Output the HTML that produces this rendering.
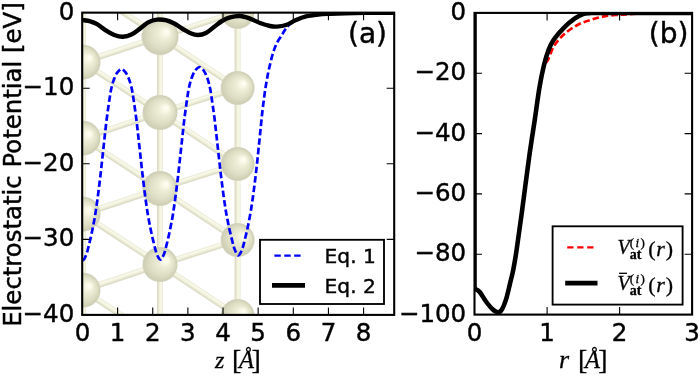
<!DOCTYPE html>
<html><head><meta charset="utf-8"><style>
html,body{margin:0;padding:0;background:#fff;}
body{width:700px;height:376px;overflow:hidden;}
svg{display:block;}
text{font-family:"DejaVu Sans","Liberation Sans",sans-serif;}
.m,.m text,text.m{font-family:"Liberation Serif","DejaVu Serif",serif;}
</style></head><body>
<svg width="700" height="376" viewBox="0 0 700 376">
<defs>
<radialGradient id="sph" cx="0.5" cy="0.5" r="0.5" fx="0.7" fy="0.36">
<stop offset="0" stop-color="#fffff6"/>
<stop offset="0.14" stop-color="#fafaea"/>
<stop offset="0.35" stop-color="#ededd6"/>
<stop offset="0.7" stop-color="#dedec5"/>
<stop offset="0.94" stop-color="#cfcfb5"/>
<stop offset="1" stop-color="#d8d8c4"/>
</radialGradient>
<linearGradient id="stk" x1="0" y1="0" x2="0" y2="1">
<stop offset="0" stop-color="#e8e8d2"/>
<stop offset="0.3" stop-color="#fafaec"/>
<stop offset="0.6" stop-color="#efefda"/>
<stop offset="1" stop-color="#d5d5bd"/>
</linearGradient>
<filter id="soft" x="-5%" y="-5%" width="110%" height="110%"><feGaussianBlur stdDeviation="0.55"/></filter>
<clipPath id="ca"><rect x="82.20" y="12.65" width="312.00" height="302.25"/></clipPath>
<clipPath id="cb"><rect x="474.50" y="12.90" width="217.60" height="301.70"/></clipPath>
</defs>
<rect width="700" height="376" fill="#fff"/>
<g clip-path="url(#ca)">
<g filter="url(#soft)"><g transform="translate(83.00,-89.80) rotate(90.000)"><rect x="0" y="-3.00" width="76.00" height="6.00" fill="url(#stk)"/></g><g transform="translate(83.00,-89.80) rotate(-18.390)"><rect x="0" y="-3.00" width="81.14" height="6.00" fill="url(#stk)"/></g><g transform="translate(83.00,-89.80) rotate(33.207)"><rect x="0" y="-3.00" width="92.03" height="6.00" fill="url(#stk)"/></g><g transform="translate(83.00,-13.80) rotate(90.000)"><rect x="0" y="-3.00" width="76.00" height="6.00" fill="url(#stk)"/></g><g transform="translate(83.00,-13.80) rotate(-18.390)"><rect x="0" y="-3.00" width="81.14" height="6.00" fill="url(#stk)"/></g><g transform="translate(83.00,-13.80) rotate(33.207)"><rect x="0" y="-3.00" width="92.03" height="6.00" fill="url(#stk)"/></g><g transform="translate(83.00,62.20) rotate(90.000)"><rect x="0" y="-3.00" width="76.00" height="6.00" fill="url(#stk)"/></g><g transform="translate(83.00,62.20) rotate(-18.390)"><rect x="0" y="-3.00" width="81.14" height="6.00" fill="url(#stk)"/></g><g transform="translate(83.00,62.20) rotate(33.207)"><rect x="0" y="-3.00" width="92.03" height="6.00" fill="url(#stk)"/></g><g transform="translate(83.00,138.20) rotate(90.000)"><rect x="0" y="-3.00" width="76.00" height="6.00" fill="url(#stk)"/></g><g transform="translate(83.00,138.20) rotate(-18.390)"><rect x="0" y="-3.00" width="81.14" height="6.00" fill="url(#stk)"/></g><g transform="translate(83.00,138.20) rotate(33.207)"><rect x="0" y="-3.00" width="92.03" height="6.00" fill="url(#stk)"/></g><g transform="translate(83.00,214.20) rotate(90.000)"><rect x="0" y="-3.00" width="76.00" height="6.00" fill="url(#stk)"/></g><g transform="translate(83.00,214.20) rotate(-18.390)"><rect x="0" y="-3.00" width="81.14" height="6.00" fill="url(#stk)"/></g><g transform="translate(83.00,214.20) rotate(33.207)"><rect x="0" y="-3.00" width="92.03" height="6.00" fill="url(#stk)"/></g><g transform="translate(83.00,290.20) rotate(90.000)"><rect x="0" y="-3.00" width="76.00" height="6.00" fill="url(#stk)"/></g><g transform="translate(83.00,290.20) rotate(-18.390)"><rect x="0" y="-3.00" width="81.14" height="6.00" fill="url(#stk)"/></g><g transform="translate(83.00,290.20) rotate(33.207)"><rect x="0" y="-3.00" width="92.03" height="6.00" fill="url(#stk)"/></g><g transform="translate(83.00,366.20) rotate(-18.390)"><rect x="0" y="-3.00" width="81.14" height="6.00" fill="url(#stk)"/></g><g transform="translate(83.00,366.20) rotate(33.207)"><rect x="0" y="-3.00" width="92.03" height="6.00" fill="url(#stk)"/></g><g transform="translate(83.00,442.20) rotate(-18.390)"><rect x="0" y="-3.00" width="81.14" height="6.00" fill="url(#stk)"/></g><g transform="translate(83.00,442.20) rotate(33.207)"><rect x="0" y="-3.00" width="92.03" height="6.00" fill="url(#stk)"/></g><g transform="translate(160.00,-115.40) rotate(90.000)"><rect x="0" y="-3.00" width="76.00" height="6.00" fill="url(#stk)"/></g><g transform="translate(160.00,-115.40) rotate(-17.589)"><rect x="0" y="-3.00" width="81.41" height="6.00" fill="url(#stk)"/></g><g transform="translate(160.00,-115.40) rotate(33.519)"><rect x="0" y="-3.00" width="93.08" height="6.00" fill="url(#stk)"/></g><g transform="translate(160.00,-39.40) rotate(90.000)"><rect x="0" y="-3.00" width="76.00" height="6.00" fill="url(#stk)"/></g><g transform="translate(160.00,-39.40) rotate(-17.589)"><rect x="0" y="-3.00" width="81.41" height="6.00" fill="url(#stk)"/></g><g transform="translate(160.00,-39.40) rotate(33.519)"><rect x="0" y="-3.00" width="93.08" height="6.00" fill="url(#stk)"/></g><g transform="translate(160.00,36.60) rotate(90.000)"><rect x="0" y="-3.00" width="76.00" height="6.00" fill="url(#stk)"/></g><g transform="translate(160.00,36.60) rotate(-17.589)"><rect x="0" y="-3.00" width="81.41" height="6.00" fill="url(#stk)"/></g><g transform="translate(160.00,36.60) rotate(33.519)"><rect x="0" y="-3.00" width="93.08" height="6.00" fill="url(#stk)"/></g><g transform="translate(160.00,112.60) rotate(90.000)"><rect x="0" y="-3.00" width="76.00" height="6.00" fill="url(#stk)"/></g><g transform="translate(160.00,112.60) rotate(-17.589)"><rect x="0" y="-3.00" width="81.41" height="6.00" fill="url(#stk)"/></g><g transform="translate(160.00,112.60) rotate(33.519)"><rect x="0" y="-3.00" width="93.08" height="6.00" fill="url(#stk)"/></g><g transform="translate(160.00,188.60) rotate(90.000)"><rect x="0" y="-3.00" width="76.00" height="6.00" fill="url(#stk)"/></g><g transform="translate(160.00,188.60) rotate(-17.589)"><rect x="0" y="-3.00" width="81.41" height="6.00" fill="url(#stk)"/></g><g transform="translate(160.00,188.60) rotate(33.519)"><rect x="0" y="-3.00" width="93.08" height="6.00" fill="url(#stk)"/></g><g transform="translate(160.00,264.60) rotate(90.000)"><rect x="0" y="-3.00" width="76.00" height="6.00" fill="url(#stk)"/></g><g transform="translate(160.00,264.60) rotate(-17.589)"><rect x="0" y="-3.00" width="81.41" height="6.00" fill="url(#stk)"/></g><g transform="translate(160.00,264.60) rotate(33.519)"><rect x="0" y="-3.00" width="93.08" height="6.00" fill="url(#stk)"/></g><g transform="translate(160.00,340.60) rotate(90.000)"><rect x="0" y="-3.00" width="76.00" height="6.00" fill="url(#stk)"/></g><g transform="translate(160.00,340.60) rotate(-17.589)"><rect x="0" y="-3.00" width="81.41" height="6.00" fill="url(#stk)"/></g><g transform="translate(160.00,340.60) rotate(33.519)"><rect x="0" y="-3.00" width="93.08" height="6.00" fill="url(#stk)"/></g><g transform="translate(160.00,416.60) rotate(-17.589)"><rect x="0" y="-3.00" width="81.41" height="6.00" fill="url(#stk)"/></g><g transform="translate(160.00,416.60) rotate(33.519)"><rect x="0" y="-3.00" width="93.08" height="6.00" fill="url(#stk)"/></g><g transform="translate(237.60,-64.00) rotate(90.000)"><rect x="0" y="-3.00" width="76.00" height="6.00" fill="url(#stk)"/></g><g transform="translate(237.60,12.00) rotate(90.000)"><rect x="0" y="-3.00" width="76.00" height="6.00" fill="url(#stk)"/></g><g transform="translate(237.60,88.00) rotate(90.000)"><rect x="0" y="-3.00" width="76.00" height="6.00" fill="url(#stk)"/></g><g transform="translate(237.60,164.00) rotate(90.000)"><rect x="0" y="-3.00" width="76.00" height="6.00" fill="url(#stk)"/></g><g transform="translate(237.60,240.00) rotate(90.000)"><rect x="0" y="-3.00" width="76.00" height="6.00" fill="url(#stk)"/></g><g transform="translate(237.60,316.00) rotate(90.000)"><rect x="0" y="-3.00" width="76.00" height="6.00" fill="url(#stk)"/></g><g transform="translate(6.50,-65.30) rotate(-17.758)"><rect x="0" y="-3.00" width="80.33" height="6.00" fill="url(#stk)"/></g><g transform="translate(6.50,-141.30) rotate(33.949)"><rect x="0" y="-3.00" width="92.22" height="6.00" fill="url(#stk)"/></g><g transform="translate(6.50,10.70) rotate(-17.758)"><rect x="0" y="-3.00" width="80.33" height="6.00" fill="url(#stk)"/></g><g transform="translate(6.50,-65.30) rotate(33.949)"><rect x="0" y="-3.00" width="92.22" height="6.00" fill="url(#stk)"/></g><g transform="translate(6.50,86.70) rotate(-17.758)"><rect x="0" y="-3.00" width="80.33" height="6.00" fill="url(#stk)"/></g><g transform="translate(6.50,10.70) rotate(33.949)"><rect x="0" y="-3.00" width="92.22" height="6.00" fill="url(#stk)"/></g><g transform="translate(6.50,162.70) rotate(-17.758)"><rect x="0" y="-3.00" width="80.33" height="6.00" fill="url(#stk)"/></g><g transform="translate(6.50,86.70) rotate(33.949)"><rect x="0" y="-3.00" width="92.22" height="6.00" fill="url(#stk)"/></g><g transform="translate(6.50,238.70) rotate(-17.758)"><rect x="0" y="-3.00" width="80.33" height="6.00" fill="url(#stk)"/></g><g transform="translate(6.50,162.70) rotate(33.949)"><rect x="0" y="-3.00" width="92.22" height="6.00" fill="url(#stk)"/></g><g transform="translate(6.50,314.70) rotate(-17.758)"><rect x="0" y="-3.00" width="80.33" height="6.00" fill="url(#stk)"/></g><g transform="translate(6.50,238.70) rotate(33.949)"><rect x="0" y="-3.00" width="92.22" height="6.00" fill="url(#stk)"/></g><g transform="translate(6.50,390.70) rotate(-17.758)"><rect x="0" y="-3.00" width="80.33" height="6.00" fill="url(#stk)"/></g><g transform="translate(6.50,314.70) rotate(33.949)"><rect x="0" y="-3.00" width="92.22" height="6.00" fill="url(#stk)"/></g><g transform="translate(6.50,466.70) rotate(-17.758)"><rect x="0" y="-3.00" width="80.33" height="6.00" fill="url(#stk)"/></g><g transform="translate(6.50,390.70) rotate(33.949)"><rect x="0" y="-3.00" width="92.22" height="6.00" fill="url(#stk)"/></g><circle cx="83.00" cy="-13.80" r="17.50" fill="url(#sph)"/><circle cx="83.00" cy="62.20" r="17.50" fill="url(#sph)"/><circle cx="83.00" cy="138.20" r="17.50" fill="url(#sph)"/><circle cx="83.00" cy="214.20" r="17.50" fill="url(#sph)"/><circle cx="83.00" cy="290.20" r="17.50" fill="url(#sph)"/><circle cx="160.00" cy="-39.40" r="17.60" fill="url(#sph)"/><circle cx="160.00" cy="36.60" r="18.60" fill="url(#sph)"/><circle cx="160.00" cy="112.60" r="17.60" fill="url(#sph)"/><circle cx="160.00" cy="188.60" r="17.60" fill="url(#sph)"/><circle cx="160.00" cy="264.60" r="17.60" fill="url(#sph)"/><circle cx="160.00" cy="340.60" r="17.60" fill="url(#sph)"/><circle cx="237.60" cy="12.00" r="17.00" fill="url(#sph)"/><circle cx="237.60" cy="88.00" r="17.00" fill="url(#sph)"/><circle cx="237.60" cy="164.00" r="17.00" fill="url(#sph)"/><circle cx="237.60" cy="240.00" r="17.00" fill="url(#sph)"/><circle cx="237.60" cy="316.00" r="17.00" fill="url(#sph)"/></g>
<path d="M82.60,260.50 C82.93,260.13 83.88,259.60 84.60,258.29 C85.32,256.99 86.20,255.01 86.95,252.67 C87.70,250.32 88.38,247.13 89.10,244.23 C89.82,241.34 90.60,238.22 91.25,235.29 C91.90,232.37 92.42,229.55 93.00,226.66 C93.58,223.76 94.20,220.77 94.70,217.92 C95.20,215.08 95.57,212.48 96.00,209.59 C96.43,206.69 96.87,203.73 97.30,200.55 C97.73,197.37 98.17,193.85 98.60,190.51 C99.02,187.16 99.45,183.81 99.85,180.47 C100.25,177.12 100.62,173.77 101.00,170.42 C101.38,167.08 101.73,163.73 102.10,160.38 C102.47,157.03 102.83,153.69 103.20,150.34 C103.57,146.99 103.93,143.65 104.30,140.30 C104.67,136.95 105.03,133.60 105.40,130.26 C105.78,126.91 106.13,123.56 106.55,120.21 C106.97,116.87 107.43,113.52 107.90,110.17 C108.37,106.82 108.90,103.16 109.35,100.13 C109.80,97.10 110.17,94.34 110.60,92.00 C111.02,89.65 111.46,87.85 111.90,86.07 C112.34,84.30 112.72,82.94 113.25,81.35 C113.78,79.76 114.46,77.95 115.10,76.53 C115.74,75.11 116.43,73.82 117.10,72.82 C117.77,71.81 118.37,71.14 119.10,70.51 C119.83,69.87 120.70,69.00 121.50,69.00 C122.30,69.00 123.17,69.87 123.90,70.50 C124.63,71.13 125.23,71.80 125.90,72.80 C126.57,73.80 127.26,75.08 127.90,76.50 C128.54,77.92 129.22,79.72 129.75,81.30 C130.28,82.88 130.66,84.23 131.10,86.00 C131.54,87.77 131.97,89.57 132.40,91.90 C132.83,94.23 133.20,96.98 133.65,100.00 C134.10,103.02 134.63,106.67 135.10,110.00 C135.57,113.33 136.03,116.67 136.45,120.00 C136.87,123.33 137.22,126.67 137.60,130.00 C137.97,133.33 138.33,136.67 138.70,140.00 C139.07,143.33 139.43,146.67 139.80,150.00 C140.17,153.33 140.53,156.67 140.90,160.00 C141.27,163.33 141.62,166.67 142.00,170.00 C142.38,173.33 142.75,176.67 143.15,180.00 C143.55,183.33 143.98,186.67 144.40,190.00 C144.82,193.33 145.27,196.83 145.70,200.00 C146.13,203.17 146.57,206.12 147.00,209.00 C147.43,211.88 147.80,214.47 148.30,217.30 C148.80,220.13 149.43,223.12 150.00,226.00 C150.57,228.88 151.10,231.68 151.75,234.60 C152.40,237.52 153.18,240.62 153.90,243.50 C154.62,246.38 155.30,249.57 156.05,251.90 C156.80,254.23 157.68,256.20 158.40,257.50 C159.12,258.80 159.73,259.70 160.40,259.70 C161.07,259.70 161.68,258.79 162.41,257.48 C163.13,256.16 164.01,254.18 164.76,251.82 C165.51,249.46 166.20,246.24 166.92,243.33 C167.64,240.42 168.42,237.28 169.07,234.34 C169.72,231.39 170.25,228.56 170.83,225.65 C171.40,222.73 172.03,219.72 172.53,216.86 C173.03,213.99 173.40,211.38 173.83,208.47 C174.27,205.55 174.70,202.57 175.14,199.37 C175.57,196.17 176.02,192.64 176.44,189.27 C176.87,185.90 177.29,182.53 177.69,179.16 C178.10,175.80 178.47,172.43 178.85,169.06 C179.22,165.69 179.58,162.32 179.95,158.95 C180.32,155.59 180.69,152.22 181.05,148.85 C181.42,145.48 181.79,142.11 182.16,138.74 C182.52,135.38 182.88,132.01 183.26,128.64 C183.63,125.27 183.99,121.90 184.41,118.53 C184.83,115.17 185.30,111.80 185.77,108.43 C186.23,105.06 186.77,101.37 187.22,98.33 C187.67,95.28 188.05,92.50 188.47,90.14 C188.90,87.78 189.33,85.96 189.78,84.18 C190.22,82.39 190.59,81.03 191.13,79.43 C191.66,77.83 192.34,76.01 192.98,74.58 C193.63,73.15 194.32,71.85 194.99,70.84 C195.66,69.83 196.26,69.16 196.99,68.52 C197.73,67.88 198.60,67.01 199.40,67.00 C200.20,66.99 201.07,67.86 201.81,68.48 C202.54,69.11 203.14,69.77 203.81,70.75 C204.48,71.74 205.17,73.01 205.82,74.41 C206.46,75.81 207.14,77.59 207.67,79.15 C208.21,80.72 208.58,82.05 209.02,83.79 C209.47,85.54 209.90,87.32 210.33,89.62 C210.75,91.93 211.13,94.65 211.58,97.63 C212.03,100.61 212.57,104.21 213.03,107.51 C213.50,110.80 213.97,114.09 214.39,117.38 C214.81,120.68 215.17,123.97 215.54,127.26 C215.92,130.56 216.28,133.85 216.64,137.14 C217.01,140.44 217.38,143.73 217.75,147.02 C218.11,150.32 218.48,153.61 218.85,156.90 C219.22,160.20 219.58,163.49 219.95,166.78 C220.33,170.07 220.70,173.37 221.11,176.66 C221.51,179.95 221.93,183.25 222.36,186.54 C222.78,189.83 223.23,193.29 223.66,196.42 C224.10,199.55 224.53,202.46 224.97,205.31 C225.40,208.16 225.77,210.71 226.27,213.51 C226.77,216.31 227.40,219.26 227.97,222.11 C228.55,224.96 229.08,227.72 229.73,230.60 C230.38,233.48 231.16,236.55 231.88,239.40 C232.60,242.24 233.29,245.39 234.04,247.69 C234.79,250.00 235.67,251.94 236.39,253.23 C237.12,254.51 237.73,255.40 238.40,255.40 C239.07,255.40 239.68,254.48 240.40,253.20 C241.12,251.92 242.00,250.02 242.75,247.70 C243.50,245.38 244.18,242.18 244.90,239.30 C245.62,236.42 246.40,233.32 247.05,230.40 C247.70,227.48 248.23,224.70 248.80,221.80 C249.38,218.90 250.00,215.85 250.50,213.00 C251.00,210.15 251.37,207.58 251.80,204.70 C252.23,201.82 252.67,198.87 253.10,195.70 C253.53,192.53 253.97,189.03 254.40,185.70 C254.83,182.37 255.25,179.07 255.65,175.70 C256.05,172.33 256.43,168.87 256.80,165.50 C257.18,162.13 257.57,158.75 257.90,155.50 C258.23,152.25 258.52,148.75 258.80,146.00 C259.08,143.25 259.30,141.88 259.60,139.00 C259.90,136.12 260.18,132.87 260.60,128.70 C261.02,124.53 261.57,118.80 262.10,114.00 C262.63,109.20 263.18,104.57 263.80,99.90 C264.42,95.23 265.12,90.27 265.80,86.00 C266.48,81.73 267.13,78.13 267.90,74.30 C268.67,70.47 269.50,66.72 270.40,63.00 C271.30,59.28 272.22,55.33 273.30,52.00 C274.38,48.67 275.57,45.67 276.90,43.00 C278.23,40.33 279.97,38.17 281.30,36.00 C282.63,33.83 283.57,31.87 284.90,30.00 C286.23,28.13 287.45,26.37 289.30,24.80 C291.15,23.23 293.22,21.93 296.00,20.60 C298.78,19.27 302.33,17.77 306.00,16.80 C309.67,15.83 314.00,15.27 318.00,14.80 C322.00,14.33 325.50,14.25 330.00,14.00 C334.50,13.75 339.17,13.48 345.00,13.30 C350.83,13.12 357.77,13.00 365.00,12.90 C372.23,12.80 382.70,12.73 388.40,12.70 C394.10,12.67 397.40,12.70 399.20,12.70" fill="none" stroke="#0000ff" stroke-width="2.7" stroke-dasharray="6.5 3"/>
<path d="M80.50,19.90 C80.85,19.93 80.97,19.87 82.60,20.10 C84.23,20.33 87.88,20.62 90.30,21.30 C92.72,21.98 94.53,22.68 97.10,24.20 C99.67,25.72 102.83,28.60 105.70,30.40 C108.57,32.20 111.43,33.93 114.30,35.00 C117.17,36.07 120.05,36.87 122.90,36.80 C125.75,36.73 128.55,35.97 131.40,34.60 C134.25,33.23 137.13,30.68 140.00,28.60 C142.87,26.52 145.75,23.60 148.60,22.10 C151.45,20.60 154.25,19.93 157.10,19.60 C159.95,19.27 162.83,19.45 165.70,20.10 C168.57,20.75 171.43,22.02 174.30,23.50 C177.17,24.98 180.20,27.38 182.90,29.00 C185.60,30.62 187.98,32.20 190.50,33.20 C193.02,34.20 195.42,35.03 198.00,35.00 C200.58,34.97 203.33,34.33 206.00,33.00 C208.67,31.67 211.33,29.00 214.00,27.00 C216.67,25.00 219.33,22.60 222.00,21.00 C224.67,19.40 227.00,18.23 230.00,17.40 C233.00,16.57 236.67,15.80 240.00,16.00 C243.33,16.20 246.67,17.43 250.00,18.60 C253.33,19.77 256.67,21.77 260.00,23.00 C263.33,24.23 267.17,25.40 270.00,26.00 C272.83,26.60 274.33,26.77 277.00,26.60 C279.67,26.43 282.83,26.10 286.00,25.00 C289.17,23.90 292.67,21.43 296.00,20.00 C299.33,18.57 302.33,17.30 306.00,16.40 C309.67,15.50 314.00,15.03 318.00,14.60 C322.00,14.17 325.50,14.03 330.00,13.80 C334.50,13.57 339.17,13.36 345.00,13.20 C350.83,13.04 355.83,12.93 365.00,12.85 C374.17,12.77 394.17,12.72 400.00,12.70" fill="none" stroke="#000" stroke-width="4.4" stroke-linejoin="round"/>
</g>
<g clip-path="url(#cb)">
<path d="M497.90,312.30 C498.57,311.83 500.57,311.57 501.90,309.50 C503.23,307.43 504.57,304.15 505.90,299.90 C507.23,295.65 508.67,289.05 509.90,284.00 C511.13,278.95 512.18,275.27 513.30,269.60 C514.42,263.93 515.17,259.60 516.60,250.00 C518.03,240.40 519.78,227.67 521.90,212.00 C524.02,196.33 527.15,171.40 529.30,156.00 C531.45,140.60 533.12,130.97 534.80,119.60 C536.48,108.23 537.88,96.65 539.40,87.80 C540.92,78.95 542.47,71.15 543.90,66.50 C545.33,61.85 546.32,63.30 548.00,59.90 C549.68,56.50 551.28,50.40 554.00,46.10 C556.72,41.80 560.30,37.67 564.30,34.10 C568.30,30.53 573.43,27.12 578.00,24.70 C582.57,22.28 587.13,21.03 591.70,19.60 C596.27,18.17 600.85,16.90 605.40,16.10 C609.95,15.30 615.00,15.12 619.00,14.80 C623.00,14.48 625.90,14.40 629.40,14.20 C632.90,14.00 635.73,13.78 640.00,13.60 C644.27,13.42 645.00,13.22 655.00,13.10 C665.00,12.98 692.50,12.93 700.00,12.90" fill="none" stroke="#ff0000" stroke-width="2.7" stroke-dasharray="6.5 3"/>
<path d="M474.5,5V288.7  C475.35,289.23 477.68,289.77 479.60,291.90 C481.52,294.03 483.88,298.65 486.00,301.50 C488.12,304.35 490.32,307.20 492.30,309.00 C494.28,310.80 496.30,312.22 497.90,312.30 C499.50,312.38 500.57,311.57 501.90,309.50 C503.23,307.43 504.57,304.15 505.90,299.90 C507.23,295.65 508.67,289.05 509.90,284.00 C511.13,278.95 512.18,275.27 513.30,269.60 C514.42,263.93 515.17,259.60 516.60,250.00 C518.03,240.40 519.78,227.67 521.90,212.00 C524.02,196.33 527.15,171.40 529.30,156.00 C531.45,140.60 533.12,130.97 534.80,119.60 C536.48,108.23 537.88,96.82 539.40,87.80 C540.92,78.78 542.35,71.87 543.90,65.50 C545.45,59.13 547.02,53.97 548.70,49.60 C550.38,45.23 551.40,43.02 554.00,39.30 C556.60,35.58 560.87,30.73 564.30,27.30 C567.73,23.87 571.48,20.88 574.60,18.70 C577.72,16.52 580.43,15.13 583.00,14.20 C585.57,13.27 587.17,13.32 590.00,13.10 C592.83,12.88 581.67,12.93 600.00,12.90 C618.33,12.87 683.33,12.90 700.00,12.90" fill="none" stroke="#000" stroke-width="4.6" stroke-linejoin="round"/>
</g>
<g fill="none" stroke="#000">
<rect x="82.20" y="12.65" width="312.00" height="302.25" stroke-width="2.1"/>
<rect x="474.50" y="12.90" width="217.60" height="301.70" stroke-width="2.1"/>
<path d="M117.60,314.90V307.40 M117.60,12.65V20.15 M152.74,314.90V307.40 M152.74,12.65V20.15 M187.88,314.90V307.40 M187.88,12.65V20.15 M223.02,314.90V307.40 M223.02,12.65V20.15 M258.16,314.90V307.40 M258.16,12.65V20.15 M293.30,314.90V307.40 M293.30,12.65V20.15 M328.44,314.90V307.40 M328.44,12.65V20.15 M363.58,314.90V307.40 M363.58,12.65V20.15 M82.20,88.21H89.70 M394.20,88.21H386.70 M82.20,163.78H89.70 M394.20,163.78H386.70 M82.20,239.34H89.70 M394.20,239.34H386.70 M547.10,314.60V307.10 M547.10,12.90V20.40 M619.60,314.60V307.10 M619.60,12.90V20.40 M474.50,73.24H482.00 M692.10,73.24H684.60 M474.50,133.58H482.00 M692.10,133.58H684.60 M474.50,193.92H482.00 M692.10,193.92H684.60 M474.50,254.26H482.00 M692.10,254.26H684.60" stroke-width="1.1"/>
</g>
<g font-size="24.5" fill="#000" stroke="#000" stroke-width="0.45">
<text x="82.46" y="341.2" text-anchor="middle">0</text>
<text x="117.60" y="341.2" text-anchor="middle">1</text>
<text x="152.74" y="341.2" text-anchor="middle">2</text>
<text x="187.88" y="341.2" text-anchor="middle">3</text>
<text x="223.02" y="341.2" text-anchor="middle">4</text>
<text x="258.16" y="341.2" text-anchor="middle">5</text>
<text x="293.30" y="341.2" text-anchor="middle">6</text>
<text x="328.44" y="341.2" text-anchor="middle">7</text>
<text x="363.58" y="341.2" text-anchor="middle">8</text>
<text x="74.30" y="19.75" text-anchor="end">0</text>
<text x="74.30" y="95.31" text-anchor="end">−10</text>
<text x="74.30" y="170.88" text-anchor="end">−20</text>
<text x="74.30" y="246.44" text-anchor="end">−30</text>
<text x="74.30" y="322.00" text-anchor="end">−40</text>
<text x="474.60" y="341.2" text-anchor="middle">0</text>
<text x="547.10" y="341.2" text-anchor="middle">1</text>
<text x="619.60" y="341.2" text-anchor="middle">2</text>
<text x="692.10" y="341.2" text-anchor="middle">3</text>
<text x="466.20" y="20.00" text-anchor="end">0</text>
<text x="466.20" y="80.34" text-anchor="end">−20</text>
<text x="466.20" y="140.68" text-anchor="end">−40</text>
<text x="466.20" y="201.02" text-anchor="end">−60</text>
<text x="466.20" y="261.36" text-anchor="end">−80</text>
<text x="466.20" y="321.70" text-anchor="end">−100</text>
</g>
<text transform="translate(21.3,164.5) rotate(-90)" text-anchor="middle" font-size="24.4" stroke="#000" stroke-width="0.45">Electrostatic Potential [eV]</text>
<g class="m" fill="#000" stroke="#000" stroke-width="0.3">
<text x="214.9" y="367.7" font-size="24" font-style="italic">z</text>
<text x="232" y="368.5" font-size="28">[</text>
<text x="239" y="367.7" font-size="24.5" font-style="italic">Å</text>
<text x="251.5" y="368.5" font-size="28">]</text>
<text x="559" y="367.8" font-size="26" font-style="italic">r</text>
<text x="578.1" y="368.5" font-size="28">[</text>
<text x="585" y="367.7" font-size="24.5" font-style="italic">Å</text>
<text x="598.3" y="368.5" font-size="28">]</text>
</g>
<text x="348" y="42.6" font-size="28" stroke="#000" stroke-width="0.45">(a)</text>
<text x="648.8" y="42.6" font-size="28" stroke="#000" stroke-width="0.45">(b)</text>
<!-- legend a -->
<rect x="260" y="239.8" width="124" height="64.2" fill="#fff" stroke="#000" stroke-width="1.85"/>
<path d="M274.4,255.7H301.2" stroke="#0000ff" stroke-width="2.3" stroke-dasharray="6.4 3.5"/>
<path d="M272,285.3H305" stroke="#000" stroke-width="4.8"/>
<g stroke="#000" stroke-width="0.4" font-size="20.2"><text x="324.6" y="262.8">Eq. 1</text>
<text x="324.6" y="292.8">Eq. 2</text></g>
<!-- legend b -->
<rect x="552.6" y="226.3" width="130" height="78.3" fill="#fff" stroke="#000" stroke-width="1.85"/>
<path d="M567.2,247.3H593.5" stroke="#ff0000" stroke-width="2.3" stroke-dasharray="6.3 3.7"/>
<path d="M565.2,283.1H597.5" stroke="#000" stroke-width="4.8"/>
<g class="m" fill="#000" stroke="#000" stroke-width="0.3">
<text x="617.5" y="254.3" font-size="20" font-style="italic">V</text>
<text x="629.7" y="247.3" font-size="13" letter-spacing="1.4">(<tspan font-style="italic">i</tspan>)</text>
<text x="629.7" y="259.0" font-size="14" font-weight="bold">at</text>
<text x="648.2" y="256.2" font-size="22" letter-spacing="0.8">(<tspan font-style="italic">r</tspan>)</text>
<text x="617.5" y="289.9" font-size="20" font-style="italic">V</text>
<text x="629.7" y="282.9" font-size="13" letter-spacing="1.4">(<tspan font-style="italic">i</tspan>)</text>
<text x="629.7" y="294.6" font-size="14" font-weight="bold">at</text>
<text x="648.2" y="291.8" font-size="22" letter-spacing="0.8">(<tspan font-style="italic">r</tspan>)</text>
<path d="M619,273.3H627" stroke="#000" stroke-width="1.3"/>
</g>
</svg>
</body></html>
